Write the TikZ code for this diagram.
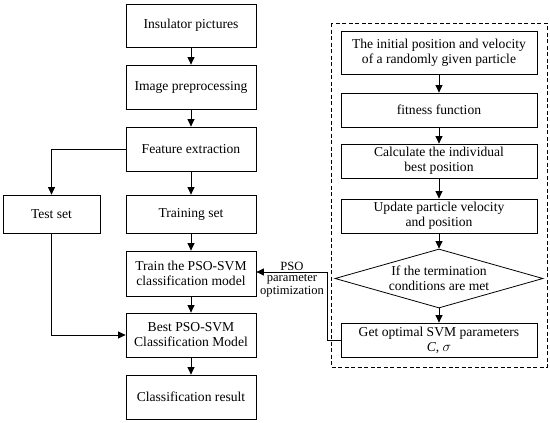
\documentclass[tikz,border=0pt]{standalone}
\usepackage{fontspec}
\setmainfont{Liberation Serif}
\usetikzlibrary{arrows.meta,shapes.geometric}
\begin{document}
\begin{tikzpicture}[x=1pt,y=-1pt,
  box/.style={draw,line width=0.8pt,inner sep=0pt,align=center,font=\fontsize{13.6}{15}\selectfont},
  lbox/.style={box,minimum width=130pt},
  rbox/.style={box,minimum width=196pt},
  arr/.style={line width=0.8pt,-{Triangle[length=7.5pt,width=7pt]}},
  lab/.style={font=\fontsize{12.6}{13}\selectfont,inner sep=0pt,align=center}]
\useasboundingbox (0,0) rectangle (550,423);
% left column
\node[lbox,minimum height=43pt] (pic) at (191,25.5) {Insulator pictures};
\node[lbox,minimum height=44pt] (pre) at (191,87) {Image preprocessing};
\node[lbox,minimum height=44pt] (feat) at (191,149) {Feature extraction};
\node[lbox,minimum height=38pt] (trs) at (191,214) {Training set};
\node[box,minimum width=97pt,minimum height=38pt] (tes) at (51.5,214) {Test set};
\node[lbox,minimum height=45pt] (trm) at (191,273.5) {Train the PSO-SVM\\classification model};
\node[lbox,minimum height=44pt] (best) at (191,335) {Best PSO-SVM\\Classification Model};
\node[lbox,minimum height=44pt] (res) at (191,397) {Classification result};
% right column
\draw[dashed,line width=0.8pt,dash pattern=on 4pt off 2.5pt] (331,23) rectangle (547,367);
\node[rbox,minimum height=43pt] (ini) at (439,52.5) {The initial position and velocity\\of a randomly given particle};
\node[rbox,minimum height=34pt] (fit) at (439,110) {fitness function};
\node[rbox,minimum height=34pt] (cal) at (439,161) {Calculate the individual\\best position};
\node[rbox,minimum height=34pt] (upd) at (439,216) {Update particle velocity\\and position};
\node[box,diamond,aspect=3.5,minimum width=208pt,minimum height=59pt] (dia) at (439,278.5) {If the termination\\conditions are met};
\node[rbox,minimum height=34pt] (get) at (439,340) {Get optimal SVM parameters\\\textit{C}, $\sigma$};
% connectors
\draw[arr] (pic) -- (pre);
\draw[arr] (pre) -- (feat);
\draw[arr] (feat) -- (trs);
\draw[arr] (feat.west) -| (tes.north);
\draw[arr] (trs) -- (trm);
\draw[arr] (trm) -- (best);
\draw[arr] (tes.south) |- (best.west);
\draw[arr] (best) -- (res);
\draw[arr] (ini) -- (fit);
\draw[arr] (fit) -- (cal);
\draw[arr] (cal) -- (upd);
\draw[arr] (upd) -- (dia.north);
\draw[arr] (dia.south) -- (get);
\coordinate (fb) at (327,272);
\draw[arr] (get.west) -| (fb) -- (trm.east |- fb);
\node[lab,anchor=south] (pso) at (292,271) {PSO};
\node[lab,anchor=north] (ppo) at (292,274.5) {parameter\\optimization};
\end{tikzpicture}
\end{document}
